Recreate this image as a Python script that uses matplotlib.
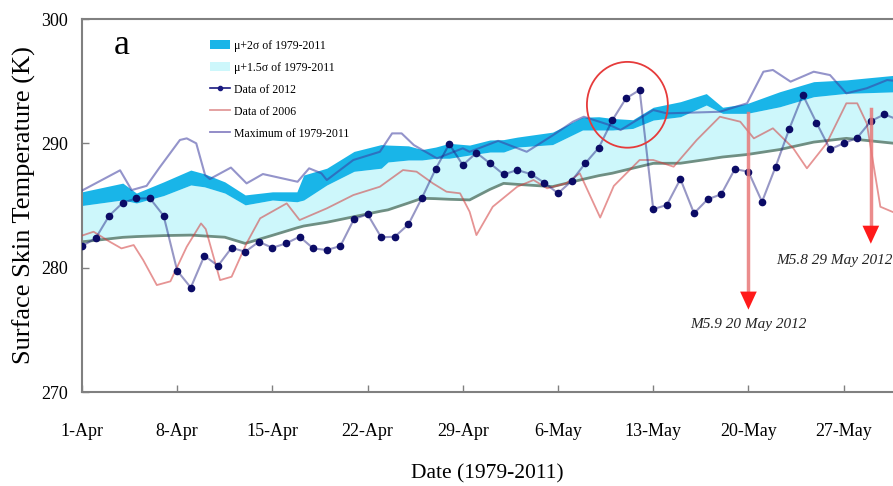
import matplotlib
matplotlib.use("Agg")
import matplotlib.pyplot as plt
from matplotlib.patches import Patch, Ellipse
from matplotlib.lines import Line2D

plt.rcParams["font.family"] = ["Liberation Serif", "DejaVu Serif"]

# x axis: days since 1 April (1-Apr = 0, 31-May = 60)
tick_days = [0, 7, 14, 21, 28, 35, 42, 49, 56]
tick_labels = ["1-Apr", "8-Apr", "15-Apr", "22-Apr", "29-Apr",
               "6-May", "13-May", "20-May", "27-May"]

# daily skin temperature of 2012 (K)
days_2012 = list(range(61))
skt_2012 = [281.74, 282.36, 284.18, 285.22, 285.57, 285.57, 284.18, 279.75,
            278.40, 280.96, 280.15, 281.60, 281.28, 282.08, 281.60, 281.95,
            282.49, 281.55, 281.42, 281.74, 283.91, 284.29, 282.44, 282.49,
            283.48, 285.62, 287.93, 289.94, 288.25, 289.24, 288.39, 287.50,
            287.85, 287.53, 286.83, 285.98, 286.97, 288.39, 289.65, 291.87,
            293.62, 294.29, 284.71, 285.04, 287.13, 284.37, 285.50, 285.90,
            287.93, 287.72, 285.30, 288.12, 291.15, 293.89, 291.66, 289.52,
            290.00, 290.45, 291.79, 292.33, 291.90]

# climatology 1979-2011: mean, mu+1.5sigma, mu+2sigma
band_days = [0, 3, 4, 6, 8, 9, 10.5, 12, 14, 15.8, 16.3, 18, 20, 22, 22.5,
             24, 25, 26, 27, 28.5, 30, 31, 32, 34.6, 36.8, 38, 39, 40.5,
             42, 44, 45.9, 47.1, 48.9, 51.3, 53.8, 56.2, 60]
mean_clim = [282.08, 282.44, 282.50, 282.58, 282.62, 282.55, 282.45, 281.95,
             282.60, 283.20, 283.35, 283.65, 284.10, 284.55, 284.65, 285.20,
             285.58, 285.55, 285.50, 285.45, 286.30, 286.78, 286.70, 286.52,
             287.10, 287.40, 287.60, 288.00, 288.39, 288.40, 288.70, 288.90,
             289.10, 289.50, 290.10, 290.40, 289.97]
mu_15sigma = [285.00, 285.45, 285.20, 285.80, 286.65, 286.50, 286.00, 285.05,
              285.44, 285.30, 285.44, 286.65, 287.75, 288.00, 288.50, 288.66,
              288.66, 288.80, 288.80, 289.06, 289.30, 289.30, 289.70, 289.90,
              291.07, 291.07, 291.07, 291.20, 291.87, 292.14, 293.08, 292.41,
              292.41, 292.94, 293.75, 294.02, 294.15]
mu_2sigma = [286.10, 286.80, 286.00, 286.90, 287.85, 287.55, 286.90, 285.85,
             286.10, 286.10, 287.45, 288.00, 289.35, 289.90, 289.86, 289.80,
             289.50, 289.70, 290.00, 289.86, 290.27, 290.30, 290.50, 290.90,
             292.10, 292.14, 292.00, 291.90, 292.90, 293.35, 294.00, 292.90,
             293.20, 294.15, 294.96, 295.10, 295.50]

# maximum of 1979-2011
max_days = [0, 2.8, 3.65, 4.75, 5.7, 7.2, 7.7, 8.4, 9.05, 9.4, 10.95, 12.1,
            13.3, 15.85, 16.7, 17.6, 18.0, 19.95, 21.9, 22.8, 23.5, 24.4,
            26.1, 28.0, 28.5, 30.6, 32.7, 34.65, 36.1, 36.9, 38.8, 39.6, 42.0,
            43.0, 46.9, 48.9, 50.1, 50.8, 52.1, 53.8, 55.0, 56.2, 57.7, 59.2,
            60]
max_clim = [286.20, 287.83, 286.24, 286.58, 288.05, 290.27, 290.40, 290.00,
            287.45, 287.13, 288.05, 286.78, 287.53, 286.91, 287.99, 287.59,
            287.05, 288.66, 289.32, 290.80, 290.80, 289.86, 288.79, 289.60,
            289.32, 290.20, 289.32, 290.67, 291.74, 292.14, 291.47, 291.07,
            292.68, 292.41, 292.54, 293.22, 295.76, 295.90, 294.96, 295.76,
            295.49, 294.02, 294.43, 295.09, 295.00]

# data of 2006
days_2006 = [0, 0.85, 2.05, 2.9, 3.8, 4.5, 5.5, 6.5, 7.7, 8.75, 9.1, 10.15,
             11.0, 12.1, 13.1, 15.05, 16.0, 18.0, 19.95, 21.9, 23.6, 24.6,
             25.8, 26.8, 27.8, 28.5, 29.0, 30.2, 32.0, 33.2, 34.2, 35.6, 36.6,
             38.1, 39.1, 41.0, 42.0, 43.5, 45.2, 46.9, 48.4, 49.4, 50.8, 52.3,
             53.3, 54.75, 56.2, 57.0, 57.7, 58.7, 60]
skt_2006 = [282.58, 282.89, 282.08, 281.55, 281.82, 280.61, 278.60, 278.90,
            281.68, 283.56, 283.10, 279.00, 279.27, 281.96, 283.97, 285.17,
            283.83, 284.77, 285.84, 286.51, 287.85, 287.72, 286.78, 286.11,
            285.98, 284.50, 282.62, 284.90, 286.51, 287.05, 286.38, 286.78,
            287.59, 284.03, 286.57, 288.66, 288.66, 288.12, 290.27, 292.14,
            291.74, 290.40, 291.21, 289.60, 287.99, 290.00, 293.22, 293.22,
            291.61, 284.90, 284.30]

# earthquakes marked with arrows
quake_days = [49, 58]
quake_tops = [292.4, 292.8]
quake_tips = [276.4, 281.7]
quake_labels = ["M5.9 20 May 2012", "M5.8 29 May 2012"]
quake_label_x = [49, 55.3]
quake_label_y = [275.4, 280.6]

# red circle around the early-May anomaly
circle_center = (40.1, 293.1)
circle_size = (5.95, 6.9)

fig = plt.figure(figsize=(8.93, 4.86), dpi=100)
ax = fig.add_axes([82 / 893, 94 / 486, 1 - 82 / 893, 373 / 486])

ax.fill_between(band_days, mean_clim, mu_15sigma, color="#cdf7fb", lw=0, zorder=1)
ax.fill_between(band_days, mu_15sigma, mu_2sigma, color="#19b5e8", lw=0, zorder=1.1)
ax.plot(band_days, mean_clim, color="#6f8f83", lw=2.0, zorder=2)

ax.plot(days_2006, skt_2006, color="#d23c3c", alpha=0.55, lw=1.3, zorder=3)
ax.plot(max_days, max_clim, color="#3c3ca0", alpha=0.55, lw=1.5, zorder=3)
ax.plot(days_2012, skt_2012, color="#1a1a80", alpha=0.45, lw=1.5, zorder=4)
ax.plot(days_2012, skt_2012, ls="none", marker="o", ms=4.5,
        color="#0b0b66", zorder=5)

for d, top, tip, lab, lx, ly in zip(quake_days, quake_tops, quake_tips,
                                    quake_labels, quake_label_x, quake_label_y):
    ax.plot([d, d], [top, tip + 1.0], color="#e87878", alpha=0.85, lw=2.5, zorder=6)
    ax.annotate("", xy=(d, tip), xytext=(d, tip + 1.4),
                arrowprops=dict(arrowstyle="-|>,head_length=0.65,head_width=0.3",
                                color="#ff1a1a", mutation_scale=20, lw=0),
                zorder=7)
    ax.text(lx, ly, lab, fontsize=11, style="italic", ha="center",
            va="center", color="#222222", zorder=7)

ax.add_patch(Ellipse(circle_center, circle_size[0], circle_size[1],
                     fill=False, ec="#e63b3b", lw=1.3, zorder=8))

ax.text(0.049, 0.928, "a", transform=ax.transAxes, fontsize=26,
        ha="center", va="center")

ax.set_xlim(0, 59.63)
ax.set_ylim(270, 300)
ax.set_xticks(tick_days)
ax.set_xticklabels(tick_labels)
ax.set_yticks([270, 280, 290, 300])
ax.tick_params(direction="in", length=5, width=1, color="#808080",
               labelsize=13)
ax.tick_params(axis="x", pad=22)
ax.tick_params(axis="y", pad=10)
for side in ["left", "bottom", "top"]:
    ax.spines[side].set_color("#808080")
    ax.spines[side].set_linewidth(1.5)
ax.spines["right"].set_visible(False)

ax.set_ylabel("Surface Skin Temperature (K)", fontsize=19, labelpad=4)
ax.set_xlabel("Date (1979-2011)", fontsize=15.5, labelpad=18)

handles = [
    Patch(facecolor="#19b5e8", edgecolor="none"),
    Patch(facecolor="#cdf7fb", edgecolor="none"),
    Line2D([], [], color="#1a1a80", lw=1.2, marker="o", ms=3),
    Line2D([], [], color="#e29a9a", lw=1.3),
    Line2D([], [], color="#8a84c4", lw=1.3),
]
labels = ["μ+2σ of 1979-2011", "μ+1.5σ of 1979-2011", "Data of 2012",
          "Data of 2006", "Maximum of 1979-2011"]
ax.legend(handles, labels, loc="upper left", bbox_to_anchor=(0.158, 0.945),
          frameon=False, fontsize=8.5, labelspacing=0.85, handlelength=1.7,
          handleheight=0.85, handletextpad=0.3, borderpad=0, borderaxespad=0)

fig.savefig("out.png", dpi=100)
